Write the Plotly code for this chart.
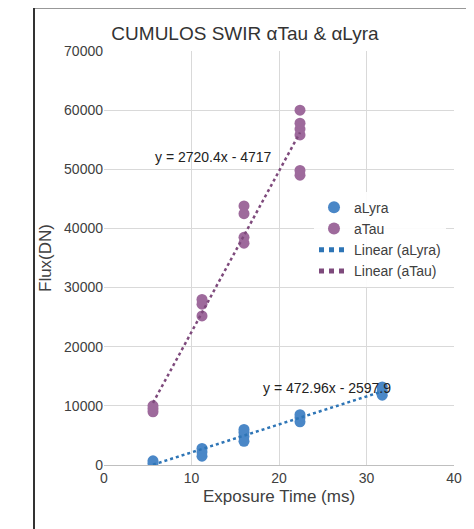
import plotly.graph_objects as go
import numpy as np

lyra_x = [5.6,5.6,11.2,11.2,11.2,16,16,16,16,22.4,22.4,22.4,31.8,31.8,31.8]
lyra_y = [300,700,1500,2200,2800,4000,4800,5500,6000,7300,8000,8500,11800,12500,13200]
tau_x = [5.6,5.6,5.6,11.2,11.2,11.2,16,16,16,16,22.4,22.4,22.4,22.4,22.4,22.4]
tau_y = [9000,9500,10000,25200,27200,28000,37500,38500,42500,43800,49000,49800,55800,56800,57800,60000]
lyra_fit = (472.96, -2597.9)
tau_fit = (2720.4, -4717)

purple = "#9E6A9C"; blue = "#4A87C7"
fig = go.Figure()
fig.add_trace(go.Scatter(x=lyra_x, y=lyra_y, mode="markers", name="aLyra",
    marker=dict(color=blue, size=11)))
fig.add_trace(go.Scatter(x=tau_x, y=tau_y, mode="markers", name="aTau",
    marker=dict(color=purple, size=11)))
lx = np.array([min(lyra_x), max(lyra_x)])
fig.add_trace(go.Scatter(x=lx, y=lyra_fit[0]*lx+lyra_fit[1], mode="lines", name="Linear (aLyra)",
    line=dict(color="#2E75B6", dash="dot", width=2.5)))
tx = np.array([min(tau_x), max(tau_x)])
fig.add_trace(go.Scatter(x=tx, y=tau_fit[0]*tx+tau_fit[1], mode="lines", name="Linear (aTau)",
    line=dict(color="#7E4A7C", dash="dot", width=2.5)))
fig.add_annotation(x=12.5, y=52000, text="y = 2720.4x - 4717", showarrow=False, font=dict(size=14, color="#222"))
fig.add_annotation(x=25.5, y=13000, text="y = 472.96x - 2597.9", showarrow=False, font=dict(size=14, color="#222"))
fig.add_shape(type="rect", xref="paper", yref="paper", x0=-0.2, x1=1.075, y0=-0.16, y1=1.105,
              line=dict(color="#333", width=2))
fig.update_layout(
    width=474, height=529, paper_bgcolor="white", plot_bgcolor="white",
    font=dict(family="Liberation Sans, Arial", size=14, color="#404040"),
    title=dict(text="CUMULOS SWIR \u03b1Tau & \u03b1Lyra", x=0.5, y=0.965, xanchor="center", font=dict(size=19, color="#333")),
    margin=dict(l=96, r=28, t=43, b=72),
    xaxis=dict(range=[0,40], dtick=10, showgrid=True, gridcolor="#D9D9D9", zeroline=False,
               showline=True, linecolor="#BFBFBF", title=dict(text="Exposure Time (ms)", standoff=5)),
    yaxis=dict(range=[0,70000], dtick=10000, tickformat="d", showgrid=True, gridcolor="#D9D9D9", zeroline=False,
               showline=False, title=dict(text="Flux(DN)", standoff=8)),
    legend=dict(x=0.6, y=0.66, xanchor="left", yanchor="top", bgcolor="rgba(255,255,255,0.9)",
                font=dict(size=14), itemsizing="constant", tracegroupgap=12),
)
fig.write_html("out.html")
